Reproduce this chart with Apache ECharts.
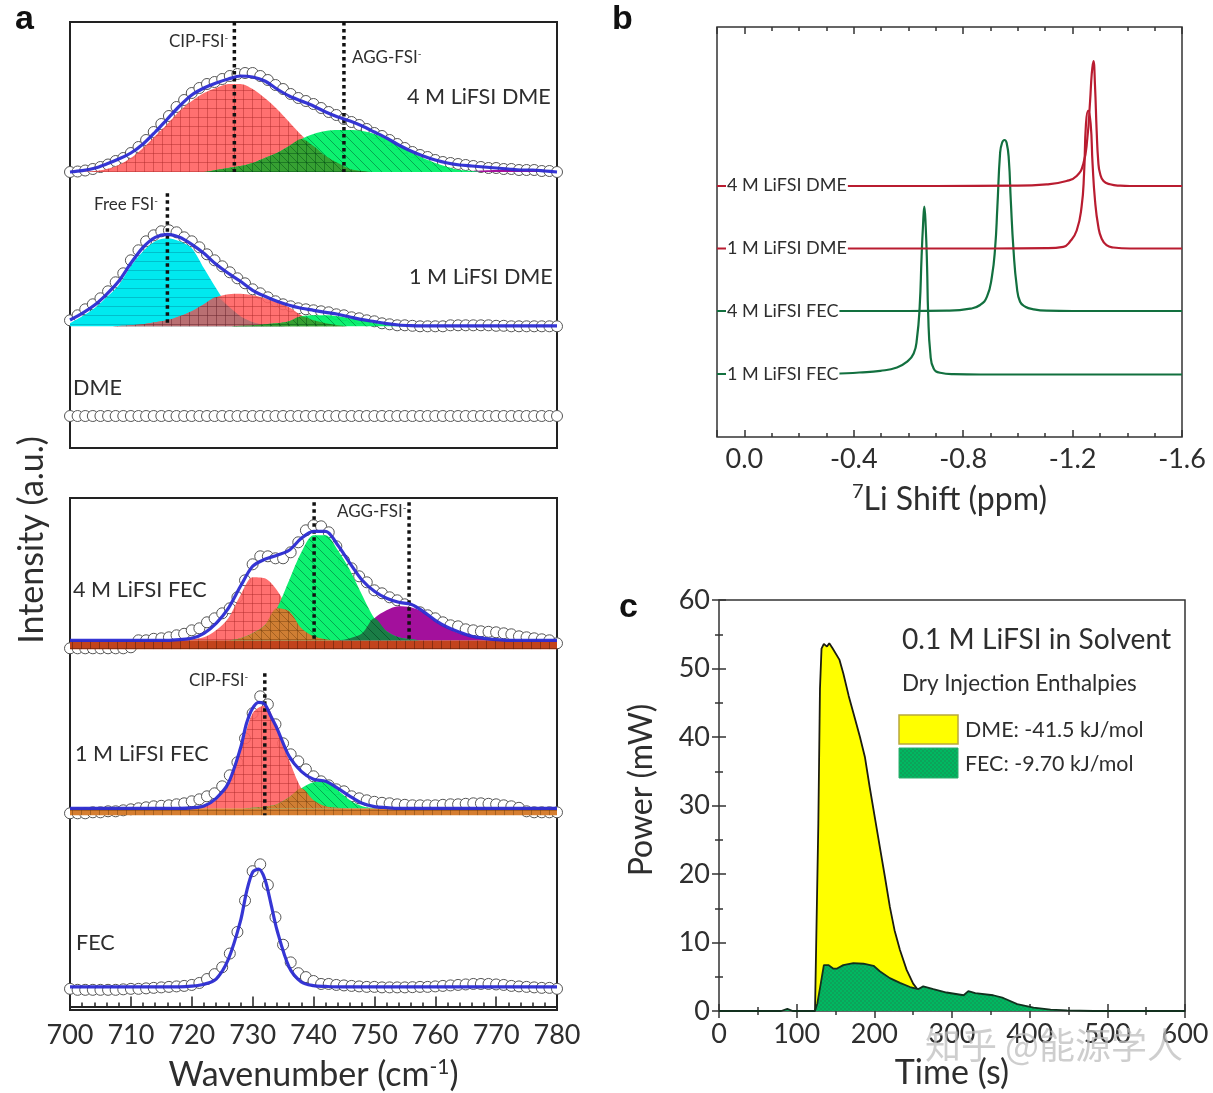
<!DOCTYPE html>
<html lang="en">
<head>
    <meta charset="UTF-8">
    <script src="https://cdn.jsdelivr.net/npm/echarts@6/dist/echarts.min.js"></script>
    <title>LiFSI spectra</title>
    <style>
        html, body { margin: 0; padding: 0; background: #fff; }
    </style>
</head>
<body>
<div id="main" style="width: 1213px;height:1093px;"></div>
<script type="text/javascript">
    // panel a: wavenumber positions of the measured circles and of the fitted curves
    var expWn = [700,701.25,702.5,703.75,705,706.25,707.5,708.75,710,711.25,712.5,713.75,715,716.25,717.5,718.75,
        720,721.25,722.5,723.75,725,726.25,727.5,728.75,730,731.25,732.5,733.75,735,736.25,737.5,738.75,
        740,741.25,742.5,743.75,745,746.25,747.5,748.75,750,751.25,752.5,753.75,755,756.25,757.5,758.75,
        760,761.25,762.5,763.75,765,766.25,767.5,768.75,770,771.25,772.5,773.75,775,776.25,777.5,778.75,780];
    var fitWn = [700,702,704,706,708,710,712,714,716,718,720,722,724,726,728,730,732,734,736,738,
        740,742,744,746,748,750,752,754,756,758,760,762,764,766,768,770,772,774,776,778,780];
    // the two sharp FEC peaks are read every 1 cm-1 around the top
    var peakWn = [700,702,704,706,708,710,712,714,716,718,720,722,724,726,728,729,730,731,732,733,734,736,738,
        740,742,744,746,748,750,752,754,756,758,760,762,764,766,768,770,772,774,776,778,780];

    // 4 M LiFSI DME
    var exp4D = [0,0.5,1.5,3,5,7.5,11,14,19,25,32,40,48,56,65,72,79,84,88,90,93,96,98,99,99,96,92,87,83,78,74,71,
        68,64,60,57,53,50,47,43,39,36,32,28,24,20,17,15,12,10,9,8,7,6,5,4,4,3,3,2,2,2,1,1,0];
    var fit4D = [0,1.3,3.7,8,13,19,28,40,53,66,77,84,89,93,96,95,91,83,76,71,66,60,55,51,46,40,34,27,21,16,12,9,7,6,5,4,3,2,2,1,0];
    var red4D = [0,0.3,1,3,7,14,24,36,48,61,71,79,84,88,88,83,74,63,50,37,26,16,9,3,1,0,0,0,0,0,0,0,0,0,0,0,0,0,0,0,0];
    var green4D = [0,0,0,0,0,0,0,0,0,0,0,0,2,4,6,9,14,19,26,33,38,41,42,42,41,38,33,27,20,14,9,5,2,1,0,0,0,0,0,0,0];
    var purple4D = [0,0,0,0,0,0,0,0,0,0,0,0,0,0,0,0,0,0,0,0,0,0,0,0,0,0,0,0,0,0,0,0,0,1,1.5,2,2,1.5,1,0.5,0];

    // 1 M LiFSI DME
    var exp1D = [6,11,17,22,28,35,44,53,66,76,85,91,95,96,94,89,85,79,72,66,60,54,48,43,37,33,29,25,22,20,18,17,
        16,15,14,12,11,9,8,6,5,3,2,1,1,0.5,0,0,0,0,1,1,1,1,1,1,0.5,0.5,0,0,0,0,0,0,0];
    var fit1D = [6.3,13,21,32,45,63,79,89,92,89,82,73,62,53,45,36,30,25,21,18,16,14,12,9.3,6.7,4.7,2.7,1.3,0.7,0.5,0.5,0.5,0.5,0.5,0.5,0.5,0.5,0.5,0.5,0.5,0.5];
    var cyan1D = [3,10,18,29,41,60,75,85,88,85,78,58,38,20,10,4,1.5,0.5,0,0,0,0,0,0,0,0,0,0,0,0,0,0,0,0,0,0,0,0,0,0,0];
    var red1D = [0,0,0,0,0.3,1,2,4,6,10,15,22,29,32,32.5,31,28,24,19,11,6,3,1,0,0,0,0,0,0,0,0,0,0,0,0,0,0,0,0,0,0];
    var green1D = [0,0,0,0,0,0,0,0,0,0,0,0,0,0,0.5,1,2,3,5,10,11,11,10,8,6,3.5,1.5,0.5,0,0,0,0,0,0,0,0,0,0,0,0,0];

    // neat DME
    var expDME = [0,0,0,0,0,0,0,0,0,0,0,0,0,0,0,0,0,0,0,0,0,0,0,0,0,0,0,0,0,0,0,0,
        0,0,0,0,0,0,0,0,0,0,0,0,0,0,0,0,0,0,0,0,0,0,0,0,0,0,0,0,0,0,0,0,0];

    // 4 M LiFSI FEC
    var exp4F = [-8,-8,-8,-8,-8,-8,-8,-8,-7,0,0,1.5,2,3,5,6.5,10,12,18,22,27,32,43,60,76,84,84,82,82,88,98,110,
        115,114,108,94,80,72,64,58,50,47,43,40,36,30,28,25,22,18,15,14,11,10,9,8.5,8,7,6,4,3,2,1,0,-3];
    var fit4F = [0,0,0,0,0,0,0,0,0,0.7,2,7,17,32,54,74,81,85,90,102,109,109,95,77,60,49,42,38,36,29,20,13,8,4,2,0.7,0,0,0,0,0];
    var red4F = [0,0,0,0,0,0,0,0,0,0,1,3,10,22,45,63,62,50,29,12,4,1,0,0,0,0,0,0,0,0,0,0,0,0,0,0,0,0,0,0,0];
    var green4F = [0,0,0,0,0,0,0,0,0,0,0,0,0,0,2,7,15,32,60,88,105,105,90,70,45,22,9,3,1,0,0,0,0,0,0,0,0,0,0,0,0];
    var purple4F = [0,0,0,0,0,0,0,0,0,0,0,0,0,0,0,0,0,0,0,0,0,0,0,2,7,22,30,34,33,28,19,12,7,3.7,1.3,0.3,0,0,0,0,0];
    var band4F = [-9,-9];

    // 1 M LiFSI FEC
    var exp1F = [-5,-5,-5,-4,-4,-3,-3,-2,-1,0,1,2,2.5,3,4,5,7,9,12,15,22,33,46,70,95,112,104,84,65,54,47,39,
        32,27,23,19,17,12,10,8,6.5,5.5,5,4,3.5,3,3,3,3,3.5,4,4,4.5,5,5,4.5,4,3,2,0.5,-3,-4,-4,-4,-4];
    var fit1F = [0,0,0,0,0,0,0,0,0,0,0.5,2.3,10,25,60,85,100,106,104,92,80,52,37,29,27,20,12,5,1.7,0.7,0,0,0,0,0,0,0,0,0,0,0,0,0,0];
    var red1F = [0,0,0,0,0,0,0,0,0,0,0,2,8,23,57,95,103,80,48,20,8,2,0.5,0,0,0,0,0,0,0,0,0,0,0,0,0,0,0,0,0,0];
    var green1F = [0,0,0,0,0,0,0,0,0,0,0,0,0,0,0,0.5,1.5,4,11,20,26,27,18,8,2,0.3,0,0,0,0,0,0,0,0,0,0,0,0,0,0,0];
    var band1F = [-7,-7];

    // neat FEC
    var expFEC = [-2,-3,-3,-3,-3,-3,-3,-2.5,-2,-2,-1.5,-1,-0.5,0,0.5,1,2,4,8,13,20,34,56,88,118,125,104,71,43,25,14,10,
        6,3,3,2,1.5,1,0.5,0,0,-0.5,-0.5,-0.5,-0.5,-0.3,0,0,0.5,1,1.5,2,2.5,3,3,3,2.5,2,1,0.5,0,-0.5,-1,-1,-2];
    var fitFEC = [0,0,0,0,0,0,0,0,0,0,0.7,2.7,8,28,67,97,117,120,110,85,58,20,5,1.3,0.5,0,0,0,0,0,0,0,0,0,0,0,0,0,0,0,0,0,0,0];

    var wnEnds = [700,780];

    // panel b: chemical shift (ppm), height above each trace's baseline
    var nmrBase = [251, 188.5, 126, 62.5];
    var shift4D = [0.1,-0.7,-0.984,-1.105,-1.178,-1.215,-1.239,-1.254,-1.264,-1.27,-1.276,-1.282,-1.288,-1.294,-1.3,-1.313,-1.337,-1.374,-1.41,-1.6];
    var nmr4D = [0,0,0.3,1.7,5,10,22,48,85,112,125,100,55,24,13,5,1.7,0.3,0,0];
    var shift1D = [0.1,-0.9,-1.105,-1.166,-1.19,-1.215,-1.233,-1.242,-1.249,-1.257,-1.266,-1.273,-1.282,-1.294,-1.306,-1.324,-1.349,-1.41,-1.6];
    var nmr1D = [0,0,0.3,1.7,6.7,18,42,75,125,138,125,85,48,22,10,3.3,1,0,0];
    var shift4F = [0.1,-0.6,-0.74,-0.826,-0.862,-0.887,-0.905,-0.917,-0.925,-0.935,-0.942,-0.951,-0.959,-0.967,-0.974,-0.984,-0.996,-1.008,-1.027,-1.057,-1.105,-1.2,-1.6];
    var nmr4F = [0,0,0.3,2.3,6,14.3,34.3,64,104,158,168,171,168,151,111,61,24.3,9.3,4.3,1.7,0.3,0,0];
    var shift1F = [0.1,-0.35,-0.42,-0.497,-0.558,-0.594,-0.619,-0.631,-0.641,-0.648,-0.653,-0.658,-0.663,-0.668,-0.672,-0.68,-0.692,-0.716,-0.765,-0.862,-1.6];
    var nmr1F = [0.5,1,2,3.7,7,12.7,21,36,68,118,148,168,148,108,61,21,6,1.7,0.3,0,0];

    // panel c: calorimetry traces
    var timeDME = [123.6,127.9,130,132,135,139,142,146,155,160,167,175,181.5,188,194,201,207,213.6,220,226,233,241.6,250,256.7];
    var powerDME = [0,27.4,47,52.9,53.6,53.2,53.7,53,51.3,49.3,46,42.7,40,37,32.7,28,24,19.6,15.2,11.8,8.9,6,4,3];
    var timeFEC = [0,80,88,95,123.6,126.6,131,135,140.8,147,152,160,173,186,199,207,220,233,246,256.7,263,276,293,315,321,330,353,366,384,405,427,448,482,600];
    var powerFEC = [0,0,0.3,0,0,1.1,4,6.7,6.7,6.2,6.2,6.7,7,6.9,6.6,5.8,4.8,4.1,3.5,3.2,3.6,3.2,2.7,2.3,2.9,2.6,2.3,1.9,1,0.5,0.2,0.1,0,0];

    var FONT = 'Lato';
    var INK = '#2e2e2e';

    function pairs(xs, ys) {
        var out = [];
        for (var i = 0; i < xs.length; i++) out.push([xs[i], ys[i]]);
        return out;
    }
    function lower(a, b) {
        var out = [];
        for (var i = 0; i < a.length; i++) out.push(Math.min(a[i], b[i]));
        return out;
    }
    // hatched fills: g = square grid, d = diagonal, h = horizontal
    function hatch(bg, ink, kind, size) {
        var c = document.createElement('canvas');
        c.width = size; c.height = size;
        var ctx = c.getContext('2d');
        ctx.fillStyle = bg;
        ctx.fillRect(0, 0, size, size);
        ctx.strokeStyle = ink;
        ctx.lineWidth = 1;
        ctx.beginPath();
        if (kind.indexOf('g') >= 0) {
            ctx.moveTo(0.5, 0); ctx.lineTo(0.5, size);
            ctx.moveTo(0, 0.5); ctx.lineTo(size, 0.5);
        }
        if (kind.indexOf('h') >= 0) {
            ctx.moveTo(0, 0.5); ctx.lineTo(size, 0.5);
        }
        if (kind.indexOf('d') >= 0) {
            ctx.moveTo(0, 0); ctx.lineTo(size, size);
        }
        ctx.stroke();
        return {image: c, repeat: 'repeat'};
    }
    function dots() {
        var c = document.createElement('canvas');
        c.width = 4; c.height = 4;
        var ctx = c.getContext('2d');
        ctx.fillStyle = '#00b861';
        ctx.fillRect(0, 0, 4, 4);
        ctx.fillStyle = '#0ca35a';
        ctx.fillRect(0, 0, 2, 2);
        ctx.fillRect(2, 2, 2, 2);
        return {image: c, repeat: 'repeat'};
    }

    var RED = hatch('rgba(255,96,96,0.9)', 'rgba(170,40,40,0.45)', 'g', 9);
    var GREEN = hatch('rgba(0,240,104,0.95)', 'rgba(0,120,60,0.6)', 'd', 10);
    var CYAN = hatch('#00e9ef', 'rgba(0,150,170,0.5)', 'h', 9);
    var PURPLE = '#a3109c';
    var RED_GREEN = hatch('#36a032', 'rgba(0,70,20,0.45)', 'gd', 9);
    var RED_CYAN = hatch('#b96f72', 'rgba(110,40,50,0.55)', 'g', 9);
    var ORANGE = hatch('#cf7e33', 'rgba(110,60,10,0.45)', 'gd', 9);
    var GREEN_PURPLE = hatch('#1a7d46', 'rgba(0,60,30,0.55)', 'd', 10);
    var BAND4 = hatch('#c2431c', 'rgba(90,30,10,0.55)', 'g', 9);
    var BAND1 = hatch('#d67e30', 'rgba(110,60,10,0.45)', 'g', 9);

    var grids = [], xAxes = [], yAxes = [], series = [], graphics = [];

    // stacked sub-panels of a: the y range is set so that zero sits on each baseline
    var subPanels = [
        {top: 22, bottom: 186, min: -14, max: 150},
        {top: 186, bottom: 335, min: -8.7, max: 140.3},
        {top: 335, bottom: 448, min: -32, max: 81},
        {top: 498, bottom: 660, min: -19.7, max: 142.3},
        {top: 660, bottom: 830, min: -21.7, max: 148.3},
        {top: 830, bottom: 1010, min: -20, max: 160}
    ];

    function addArea(idx, values, fill, z) {
        series.push({
            type: 'line', xAxisIndex: idx, yAxisIndex: idx, data: pairs(fitWn, values),
            smooth: 0.3, symbol: 'none', silent: true, clip: false, z: z,
            lineStyle: {width: 0}, areaStyle: {color: fill, opacity: 1}
        });
    }
    function addBand(idx, values, fill) {
        series.push({
            type: 'line', xAxisIndex: idx, yAxisIndex: idx, data: pairs(wnEnds, values),
            symbol: 'none', silent: true, clip: false, z: 3,
            lineStyle: {width: 0}, areaStyle: {color: fill, opacity: 1, origin: 0}
        });
    }
    function addExp(idx, values) {
        series.push({
            type: 'scatter', xAxisIndex: idx, yAxisIndex: idx, data: pairs(expWn, values),
            symbol: 'circle', symbolSize: 11, silent: true, clip: false, z: 2,
            itemStyle: {color: '#fff', borderColor: '#555', borderWidth: 1, opacity: 1}
        });
    }
    function addFit(idx, xs, values) {
        series.push({
            type: 'line', xAxisIndex: idx, yAxisIndex: idx, data: pairs(xs, values),
            smooth: 0.3, symbol: 'none', silent: true, clip: false, z: 7,
            lineStyle: {color: '#2b2bd2', width: 3.2, opacity: 0.95}
        });
    }
    function addDotted(idx, wn, from, to) {
        series.push({
            type: 'line', xAxisIndex: idx, yAxisIndex: idx, data: [[wn, from], [wn, to]],
            symbol: 'none', silent: true, clip: false, z: 6,
            lineStyle: {color: '#111', width: 3.5, type: [3.5, 3.5]}
        });
    }

    for (var i = 0; i < subPanels.length; i++) {
        var p = subPanels[i];
        var last = i === subPanels.length - 1;
        grids.push({left: 70, width: 487, top: p.top, height: p.bottom - p.top});
        xAxes.push({
            type: 'value', gridIndex: i, min: 700, max: 780, interval: 10, show: last,
            axisLine: {show: true, onZero: false, lineStyle: {color: '#222', width: 2}},
            axisTick: {show: true, inside: true, length: 10, lineStyle: {color: '#222', width: 1.5}},
            minorTick: {show: true, splitNumber: 5, length: 4, lineStyle: {color: '#222', width: 1.5}},
            splitLine: {show: false},
            axisLabel: {fontFamily: FONT, fontSize: 27, color: INK, margin: 15},
            name: '{t|Wavenumber (cm}{s|-1}{t|)}', nameLocation: 'middle', nameGap: 50,
            nameTextStyle: {rich: {
                t: {fontFamily: FONT, fontSize: 34, color: INK},
                s: {fontFamily: FONT, fontSize: 21, color: INK, padding: [0, 0, 16, 0]}
            }}
        });
        yAxes.push({type: 'value', gridIndex: i, min: p.min, max: p.max, show: false});
    }

    // frames around the two stacks
    var frameIndex = [[22, 448], [498, 1010]];
    for (var f = 0; f < frameIndex.length; f++) {
        grids.push({left: 70, width: 487, top: frameIndex[f][0], height: frameIndex[f][1] - frameIndex[f][0],
            show: true, borderColor: '#222', borderWidth: 2});
        xAxes.push({type: 'value', gridIndex: grids.length - 1, show: false});
        yAxes.push({type: 'value', gridIndex: grids.length - 1, show: false});
    }

    addExp(0, exp4D);
    addArea(0, red4D, RED, 3);
    addArea(0, purple4D, PURPLE, 3);
    addArea(0, green4D, GREEN, 4);
    addArea(0, lower(red4D, green4D), RED_GREEN, 5);
    addDotted(0, 727, 150, 0);
    addDotted(0, 745, 150, 0);
    addFit(0, fitWn, fit4D);

    addExp(1, exp1D);
    addArea(1, cyan1D, CYAN, 3);
    addArea(1, red1D, RED, 4);
    addArea(1, green1D, GREEN, 4);
    addArea(1, lower(cyan1D, red1D), RED_CYAN, 5);
    addArea(1, lower(red1D, green1D), RED_GREEN, 5);
    addDotted(1, 716, 133, 0);
    addFit(1, fitWn, fit1D);

    addExp(2, expDME);

    addExp(3, exp4F);
    addBand(3, band4F, BAND4);
    addArea(3, red4F, RED, 3);
    addArea(3, purple4F, PURPLE, 3);
    addArea(3, green4F, GREEN, 4);
    addArea(3, lower(red4F, green4F), ORANGE, 5);
    addArea(3, lower(green4F, purple4F), GREEN_PURPLE, 5);
    addDotted(3, 740.1, 138, 0);
    addDotted(3, 755.7, 138, 0);
    addFit(3, fitWn, fit4F);

    addExp(4, exp1F);
    addBand(4, band1F, BAND1);
    addArea(4, red1F, RED, 3);
    addArea(4, green1F, GREEN, 4);
    addArea(4, lower(red1F, green1F), ORANGE, 5);
    addDotted(4, 732, 135, -7);
    addFit(4, peakWn, fit1F);

    addExp(5, expFEC);
    addFit(5, peakWn, fitFEC);

    // panel b
    var bGrid = grids.length;
    grids.push({left: 717, width: 465, top: 27, height: 410, show: true, borderColor: '#333', borderWidth: 1.5});
    function shiftAxis(position, labelled) {
        return {
            type: 'value', gridIndex: bGrid, position: position, inverse: true, min: -1.6, max: 0.1, interval: 0.4,
            axisLine: {show: false},
            axisTick: {show: true, inside: true, length: 7, lineStyle: {color: '#333', width: 1.5}},
            minorTick: {show: true, splitNumber: 4, length: 4, lineStyle: {color: '#333', width: 1.5}},
            splitLine: {show: false},
            axisLabel: {show: labelled, fontFamily: FONT, fontSize: 27, color: INK, margin: 9, showMaxLabel: false,
                formatter: function (v) { return v > 0.05 ? '' : v.toFixed(1); }},
            name: labelled ? '{s|7}{t|Li Shift (ppm)}' : '', nameLocation: 'middle', nameGap: 45,
            nameTextStyle: {rich: {
                t: {fontFamily: FONT, fontSize: 32, color: INK},
                s: {fontFamily: FONT, fontSize: 20, color: INK, padding: [0, 0, 16, 0]}
            }}
        };
    }
    xAxes.push(shiftAxis('bottom', true));
    yAxes.push({type: 'value', gridIndex: bGrid, min: 0, max: 410, show: false});
    var bAxis = xAxes.length - 1;
    xAxes.push(shiftAxis('top', false));

    function addNmr(shift, height, base, color) {
        var ys = [];
        for (var k = 0; k < height.length; k++) ys.push(base + height[k]);
        series.push({
            type: 'line', xAxisIndex: bAxis, yAxisIndex: yAxes.length - 1, data: pairs(shift, ys),
            smooth: 0.5, symbol: 'none', silent: true, z: 3,
            lineStyle: {color: color, width: 2.2}
        });
    }
    addNmr(shift1F, nmr1F, nmrBase[3], '#12703f');
    addNmr(shift4F, nmr4F, nmrBase[2], '#12703f');
    addNmr(shift1D, nmr1D, nmrBase[1], '#b91c30');
    addNmr(shift4D, nmr4D, nmrBase[0], '#b91c30');

    // panel c
    var cGrid = grids.length;
    grids.push({left: 719, width: 466, top: 600, height: 411, show: true, borderColor: '#333', borderWidth: 1.5});
    function timeAxis(position, labelled) {
        return {
            type: 'value', gridIndex: cGrid, position: position, min: 0, max: 600, interval: 100,
            axisLine: {show: false},
            axisTick: {show: true, inside: true, length: 7, lineStyle: {color: '#333', width: 1.5}},
            minorTick: {show: true, splitNumber: 2, length: 4, lineStyle: {color: '#333', width: 1.5}},
            splitLine: {show: false},
            axisLabel: {show: labelled, fontFamily: FONT, fontSize: 27, color: INK, margin: 10},
            name: labelled ? 'Time (s)' : '', nameLocation: 'middle', nameGap: 45,
            nameTextStyle: {fontFamily: FONT, fontSize: 34, color: INK}
        };
    }
    function powerAxis(position, labelled) {
        return {
            type: 'value', gridIndex: cGrid, position: position, min: 0, max: 60, interval: 10,
            axisLine: {show: false},
            axisTick: {show: true, inside: true, length: 7, lineStyle: {color: '#333', width: 1.5}},
            minorTick: {show: true, splitNumber: 2, length: 4, lineStyle: {color: '#333', width: 1.5}},
            splitLine: {show: false},
            axisLabel: {show: labelled, fontFamily: FONT, fontSize: 27, color: INK, margin: 9}
        };
    }
    xAxes.push(timeAxis('bottom', true));
    var cX = xAxes.length - 1;
    xAxes.push(timeAxis('top', false));
    yAxes.push(powerAxis('left', true));
    var cY = yAxes.length - 1;
    yAxes.push(powerAxis('right', false));

    series.push({
        type: 'line', xAxisIndex: cX, yAxisIndex: cY, data: pairs(timeDME, powerDME), symbol: 'none', silent: true, z: 3,
        lineStyle: {color: '#1c1c10', width: 1.8}, areaStyle: {color: '#ffff00', opacity: 1}
    });
    series.push({
        type: 'line', xAxisIndex: cX, yAxisIndex: cY, data: pairs(timeFEC, powerFEC), symbol: 'none', silent: true, z: 4,
        lineStyle: {color: '#12301e', width: 1.8}, areaStyle: {color: dots(), opacity: 1}
    });

    function text(x, y, str, size, extra) {
        var st = {text: str, fontFamily: FONT, fontSize: size, fill: INK, verticalAlign: 'middle', textAlign: 'left'};
        for (var key in (extra || {})) st[key] = extra[key];
        graphics.push({type: 'text', x: x, y: y, z: 100, style: st});
    }
    var supRich = {
        t: {fontFamily: FONT, fontSize: 17, fill: INK},
        s: {fontFamily: FONT, fontSize: 10, fill: INK, padding: [0, 0, 8, 0]}
    };
    function ion(x, y, str) {
        text(x, y, '{t|' + str + '}{s|-}', 17, {rich: supRich});
    }
    function vertical(x, y, str, size) {
        graphics.push({type: 'text', x: x, y: y, rotation: Math.PI / 2, z: 100,
            style: {text: str, fontFamily: FONT, fontSize: size, fill: INK, textAlign: 'center', verticalAlign: 'middle'}});
    }

    text(15, 20, 'a', 34, {fontFamily: 'Liberation Sans', fontWeight: 'bold', fill: '#111'});
    text(612, 20, 'b', 34, {fontFamily: 'Liberation Sans', fontWeight: 'bold', fill: '#111'});
    text(619, 608, 'c', 34, {fontFamily: 'Liberation Sans', fontWeight: 'bold', fill: '#111'});

    ion(169, 42, 'CIP-FSI');
    ion(352, 58, 'AGG-FSI');
    ion(94, 205, 'Free FSI');
    ion(337, 512, 'AGG-FSI');
    ion(189, 681, 'CIP-FSI');
    text(407, 97, '4 M LiFSI DME', 21.6);
    text(409, 277, '1 M LiFSI DME', 21.6);
    text(73, 388, 'DME', 21.6);
    text(73, 590, '4 M LiFSI FEC', 21.6);
    text(75, 754, '1 M LiFSI FEC', 21.6);
    text(76, 943, 'FEC', 21.6);

    vertical(32, 540, 'Intensity (a.u.)', 34);
    vertical(642, 790, 'Power (mW)', 32);

    var bLabels = [['4 M LiFSI DME', 185], ['1 M LiFSI DME', 248], ['4 M LiFSI FEC', 311], ['1 M LiFSI FEC', 374]];
    for (var b = 0; b < bLabels.length; b++) {
        text(726, bLabels[b][1], bLabels[b][0], 18, {backgroundColor: '#fff', padding: [0, 1, 0, 1]});
    }

    text(902, 640, '0.1 M LiFSI in Solvent', 28.2);
    text(902, 684, 'Dry Injection Enthalpies', 22.4);
    graphics.push({type: 'rect', z: 100, shape: {x: 899, y: 715, width: 59, height: 29},
        style: {fill: '#ffff00', stroke: '#b8a83c', lineWidth: 1.5}});
    graphics.push({type: 'rect', z: 100, shape: {x: 899, y: 748, width: 59, height: 30},
        style: {fill: dots(), stroke: '#2fae6e', lineWidth: 1}});
    text(965, 730, 'DME: -41.5 kJ/mol', 21.4);
    text(965, 764, 'FEC: -9.70 kJ/mol', 21.4);

    graphics.push({type: 'text', x: 925, y: 1045, z: 120,
        style: {text: '知乎 @能源学人', fontFamily: 'Noto Sans CJK SC', fontSize: 36, fill: 'rgba(190,190,190,0.75)', verticalAlign: 'middle', textAlign: 'left'}});

    var myChart = echarts.init(document.getElementById('main'));
    myChart.setOption({
        animation: false,
        backgroundColor: '#fff',
        grid: grids,
        xAxis: xAxes,
        yAxis: yAxes,
        series: series,
        graphic: {elements: graphics}
    });
</script>
</body>
</html>
